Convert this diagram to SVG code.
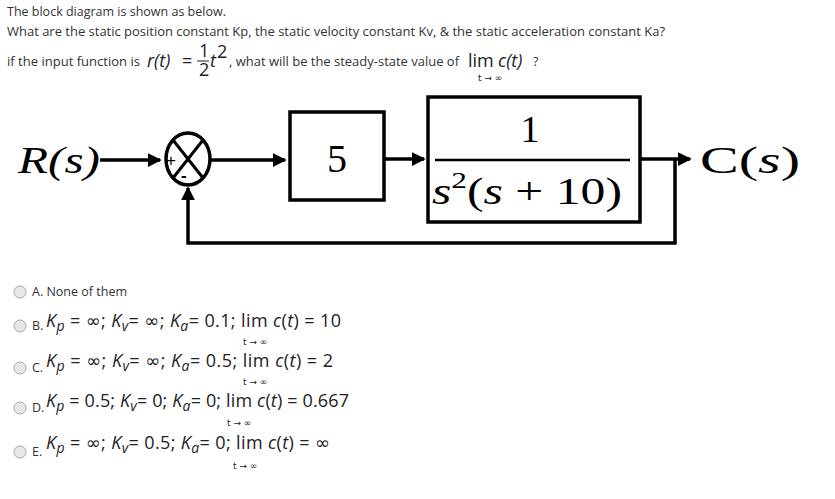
<svg xmlns="http://www.w3.org/2000/svg" width="835" height="499" viewBox="0 0 835 499">
<defs>
<style>
.t{font-family:"Open Sans",sans-serif;font-size:12.5px;fill:#333}
.m{font-family:"Open Sans",sans-serif;font-size:18px;fill:#222}
.s{font-family:"DejaVu Sans",sans-serif;font-size:9px;fill:#222}
.i{font-family:"DejaVu Sans",sans-serif}
.cam{font-family:"Liberation Serif",serif;fill:#000}
.ln{stroke:#000;stroke-width:3.5;fill:none}
.rb{fill:#e6e6e6;stroke:#aaa;stroke-width:1}
</style>
<marker id="a" markerWidth="4" markerHeight="4" refX="3.5" refY="2" orient="auto" markerUnits="strokeWidth"><path d="M0,0L4,2L0,4z" fill="#000"/></marker>
</defs>
<rect width="835" height="499" fill="#fff"/>
<text class="t" x="7" y="16">The block diagram is shown as below.</text>
<text class="t" x="7" y="36" textLength="658" lengthAdjust="spacingAndGlyphs">What are the static position constant Kp, the static velocity constant Kv, &amp; the static acceleration constant Ka?</text>
<text class="t" x="7" y="66" font-size="11.5" textLength="133" lengthAdjust="spacingAndGlyphs">if the input function is</text>
<text class="m" x="147" y="67" font-style="italic">r(t)</text>
<text class="m" x="182" y="67">=</text>
<text class="m" x="199" y="57" font-size="14">1</text>
<line x1="197" y1="61" x2="209" y2="61" stroke="#222" stroke-width="1"/>
<text class="m" x="199" y="76" font-size="14">2</text>
<text class="m" x="210" y="67" font-style="italic">t</text>
<text class="m" x="217" y="58" font-size="11">2</text>
<text class="t" x="229" y="66" font-size="11.5" textLength="230" lengthAdjust="spacingAndGlyphs">, what will be the steady-state value of</text>
<text class="m" x="468" y="67">lim</text>
<text class="m" x="498" y="67" font-style="italic">c(t)</text>
<text class="t" x="533" y="66" font-size="11.5">?</text>
<text class="s" x="478" y="81">t → ∞</text>

<g id="connectors">
<line class="ln" x1="100" y1="160" x2="160" y2="160" marker-end="url(#a)"/>
<line class="ln" x1="210" y1="160" x2="285" y2="160" marker-end="url(#a)"/>
<line class="ln" x1="384" y1="159" x2="424" y2="159" marker-end="url(#a)"/>
<line class="ln" x1="640" y1="159" x2="690" y2="159" marker-end="url(#a)"/>
<polyline class="ln" points="675,159 675,243 188,243 188,188" marker-end="url(#a)"/>
</g>
<g id="R"><text class="cam" x="18" y="173" font-size="38" font-style="italic" textLength="82" lengthAdjust="spacingAndGlyphs">R(s)</text></g>
<g id="sum">
<ellipse cx="188" cy="159" rx="22" ry="26" fill="#fff" stroke="#000" stroke-width="3.5"/>
<line x1="173" y1="140" x2="203" y2="178" stroke="#000" stroke-width="3"/>
<line x1="203" y1="140" x2="173" y2="178" stroke="#000" stroke-width="3"/>
<text x="166" y="166" font-family="Liberation Sans,sans-serif" font-size="17">+</text>
<text x="181" y="181" font-family="Liberation Sans,sans-serif" font-size="17" font-weight="bold">-</text>
</g>
<g id="g5">
<rect x="290" y="112" width="94" height="88" fill="#fff" stroke="#000" stroke-width="3.5"/>
<text class="cam" x="337" y="172" font-size="40" text-anchor="middle">5</text>
</g>
<g id="plant">
<rect x="428" y="97" width="212" height="125" fill="#fff" stroke="#000" stroke-width="3.5"/>
<text class="cam" x="530" y="142" font-size="38" text-anchor="middle">1</text>
<line x1="435" y1="160" x2="630" y2="160" stroke="#000" stroke-width="2.5"/>
<text class="cam" x="432" y="204" font-size="38" textLength="190" lengthAdjust="spacingAndGlyphs"><tspan font-style="italic">s</tspan><tspan font-size="24" dy="-16">2</tspan><tspan dy="16">(</tspan><tspan font-style="italic">s</tspan> + 10)</text>
</g>
<g id="C"><text class="cam" x="700" y="173" font-size="38" textLength="100" lengthAdjust="spacingAndGlyphs">C(<tspan font-style="italic">s</tspan>)</text></g>

<g id="options">
<circle class="rb" cx="20" cy="292" r="6"/>
<text class="t" x="32" y="296">A. None of them</text>
<circle class="rb" cx="20" cy="326" r="6"/>
<text class="t" x="32" y="330">B.</text>
<text class="m" x="46" y="327" textLength="295" lengthAdjust="spacing"><tspan font-style="italic">K</tspan><tspan font-size="14" font-style="italic" dy="4">p</tspan><tspan dy="-4"> = </tspan><tspan class="i">∞</tspan>; <tspan font-style="italic">K</tspan><tspan font-size="14" font-style="italic" dy="4">v</tspan><tspan dy="-4">= </tspan><tspan class="i">∞</tspan>; <tspan font-style="italic">K</tspan><tspan font-size="14" font-style="italic" dy="4">a</tspan><tspan dy="-4">= 0.1;  lim </tspan><tspan font-style="italic">c</tspan>(<tspan font-style="italic">t</tspan>) = 10</text>
<text class="s" x="243" y="345">t → ∞</text>
<circle class="rb" cx="20" cy="368" r="6"/>
<text class="t" x="32" y="372">C.</text>
<text class="m" x="46" y="367" textLength="287" lengthAdjust="spacing"><tspan font-style="italic">K</tspan><tspan font-size="14" font-style="italic" dy="4">p</tspan><tspan dy="-4"> = </tspan><tspan class="i">∞</tspan>; <tspan font-style="italic">K</tspan><tspan font-size="14" font-style="italic" dy="4">v</tspan><tspan dy="-4">= </tspan><tspan class="i">∞</tspan>; <tspan font-style="italic">K</tspan><tspan font-size="14" font-style="italic" dy="4">a</tspan><tspan dy="-4">= 0.5;  lim </tspan><tspan font-style="italic">c</tspan>(<tspan font-style="italic">t</tspan>) = 2</text>
<text class="s" x="243" y="385">t → ∞</text>
<circle class="rb" cx="20" cy="408" r="6"/>
<text class="t" x="32" y="412">D.</text>
<text class="m" x="46" y="407" textLength="303" lengthAdjust="spacing"><tspan font-style="italic">K</tspan><tspan font-size="14" font-style="italic" dy="4">p</tspan><tspan dy="-4"> = 0.5; </tspan><tspan font-style="italic">K</tspan><tspan font-size="14" font-style="italic" dy="4">v</tspan><tspan dy="-4">= 0; </tspan><tspan font-style="italic">K</tspan><tspan font-size="14" font-style="italic" dy="4">a</tspan><tspan dy="-4">= 0;  lim </tspan><tspan font-style="italic">c</tspan>(<tspan font-style="italic">t</tspan>) = 0.667</text>
<text class="s" x="227" y="426">t → ∞</text>
<circle class="rb" cx="20" cy="452" r="6"/>
<text class="t" x="32" y="456">E.</text>
<text class="m" x="46" y="449" textLength="284" lengthAdjust="spacing"><tspan font-style="italic">K</tspan><tspan font-size="14" font-style="italic" dy="4">p</tspan><tspan dy="-4"> = </tspan><tspan class="i">∞</tspan>; <tspan font-style="italic">K</tspan><tspan font-size="14" font-style="italic" dy="4">v</tspan><tspan dy="-4">= 0.5; </tspan><tspan font-style="italic">K</tspan><tspan font-size="14" font-style="italic" dy="4">a</tspan><tspan dy="-4">= 0;  lim </tspan><tspan font-style="italic">c</tspan>(<tspan font-style="italic">t</tspan>) = <tspan class="i">∞</tspan></text>
<text class="s" x="233" y="469">t → ∞</text>
</g>
</svg>
